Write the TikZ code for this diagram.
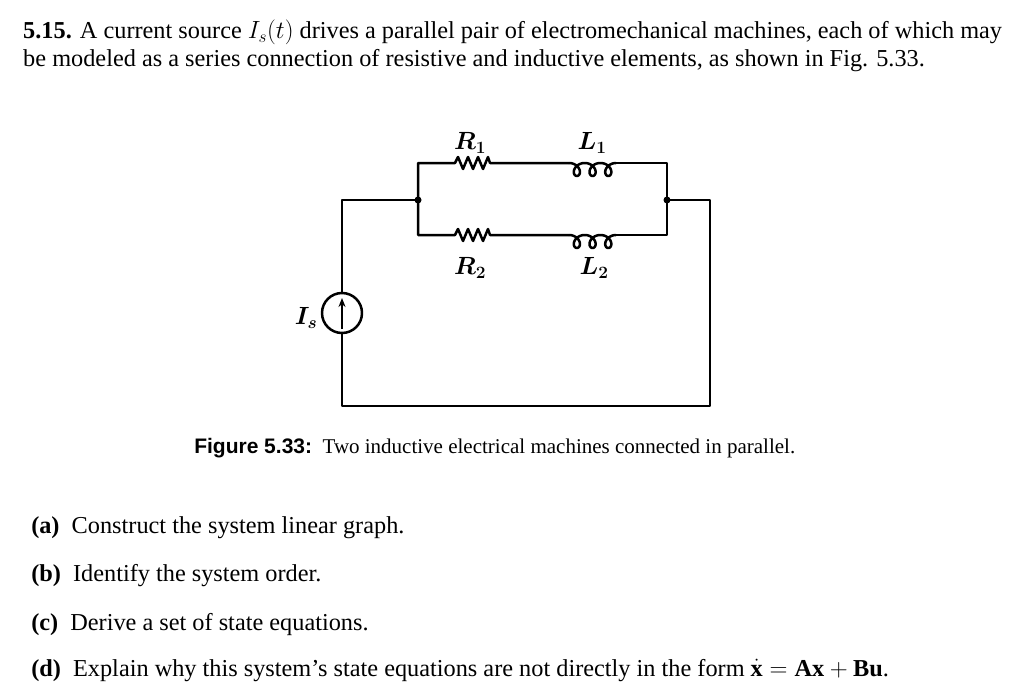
\documentclass[tikz,border=0pt]{standalone}
\usepackage{fontspec}
\setmainfont{Liberation Serif}
\newfontfamily\capfont{Liberation Sans}
\usetikzlibrary{arrows.meta}
\begin{document}
\begin{tikzpicture}[x=1pt,y=-1pt,line width=2.5pt,line join=round,
  txt/.style={anchor=base west,inner sep=0,font=\fontsize{24.3}{28}\selectfont},
  lbl/.style={inner sep=0,font=\fontsize{25}{28}\selectfont\boldmath}]
\useasboundingbox (0,0) rectangle (1024,698);
\node[txt] (t1) at (22,39) {\textbf{5.15.} A current source $I_s(t)$ drives a parallel pair of electromechanical machines, each of which may};
\node[txt] (t2) at (22,67) {be modeled as a series connection of resistive and inductive elements, as shown in Fig. 5.33.};
% circuit
\coordinate (A) at (418,200); \coordinate (B) at (667,200);
\coordinate (TL) at (342,200); \coordinate (TR) at (710,200);
\coordinate (BL) at (342,406); \coordinate (BR) at (710,406);
\node[circle,draw,minimum size=40pt,inner sep=0] (src) at (342,313) {};
\draw[-{Stealth[length=9pt,width=7pt]},line width=2.2pt] (342,329) -- (342,298);
\draw (src.north) -- (TL) -- (A) (B) -- (TR) -- (BR) -- (BL) -- (src.south);
\foreach \y in {163,235}{
  \draw (A) -- (418,\y) -- (455,\y) -- ++(3,-6) -- ++(5,12) -- ++(5,-12) -- ++(5,12) -- ++(5,-12) -- ++(5,12) -- ++(5,-12) -- ++(2,6) -- (569,\y);
  \draw plot[domain=pi:7*pi,samples=150,variable=\t] ({569+2.5*(\t-pi)-6.5*sin(\t r)},{\y+6.5+6.5*cos(\t r)});
  \draw (616,\y) -- (667,\y) -- (B);
}
\fill (A) circle (3.5pt) (B) circle (3.5pt);
\node[lbl] (r1) at (470,143) {$R_1$};
\node[lbl] (l1) at (592,143) {$L_1$};
\node[lbl] (r2) at (470,268) {$R_2$};
\node[lbl] (l2) at (594,268) {$L_2$};
\node[lbl] (is) at (306,318) {$I_s$};
\node[txt,font=\fontsize{21}{24}\selectfont] (cap) at (193,453) {{\capfont\bfseries Figure 5.33:}\enspace Two inductive electrical machines connected in parallel.};
\node[txt] (a) at (30,533) {\textbf{(a)}\enspace Construct the system linear graph.};
\node[txt] (b) at (30,581) {\textbf{(b)}\enspace Identify the system order.};
\node[txt] (c) at (30,630) {\textbf{(c)}\enspace Derive a set of state equations.};
\node[txt] (d) at (30,676) {\textbf{(d)}\enspace Explain why this system's state equations are not directly in the form $\dot{\mathbf{x}}=\mathbf{A}\mathbf{x}+\mathbf{B}\mathbf{u}$.};
\end{tikzpicture}
\end{document}
